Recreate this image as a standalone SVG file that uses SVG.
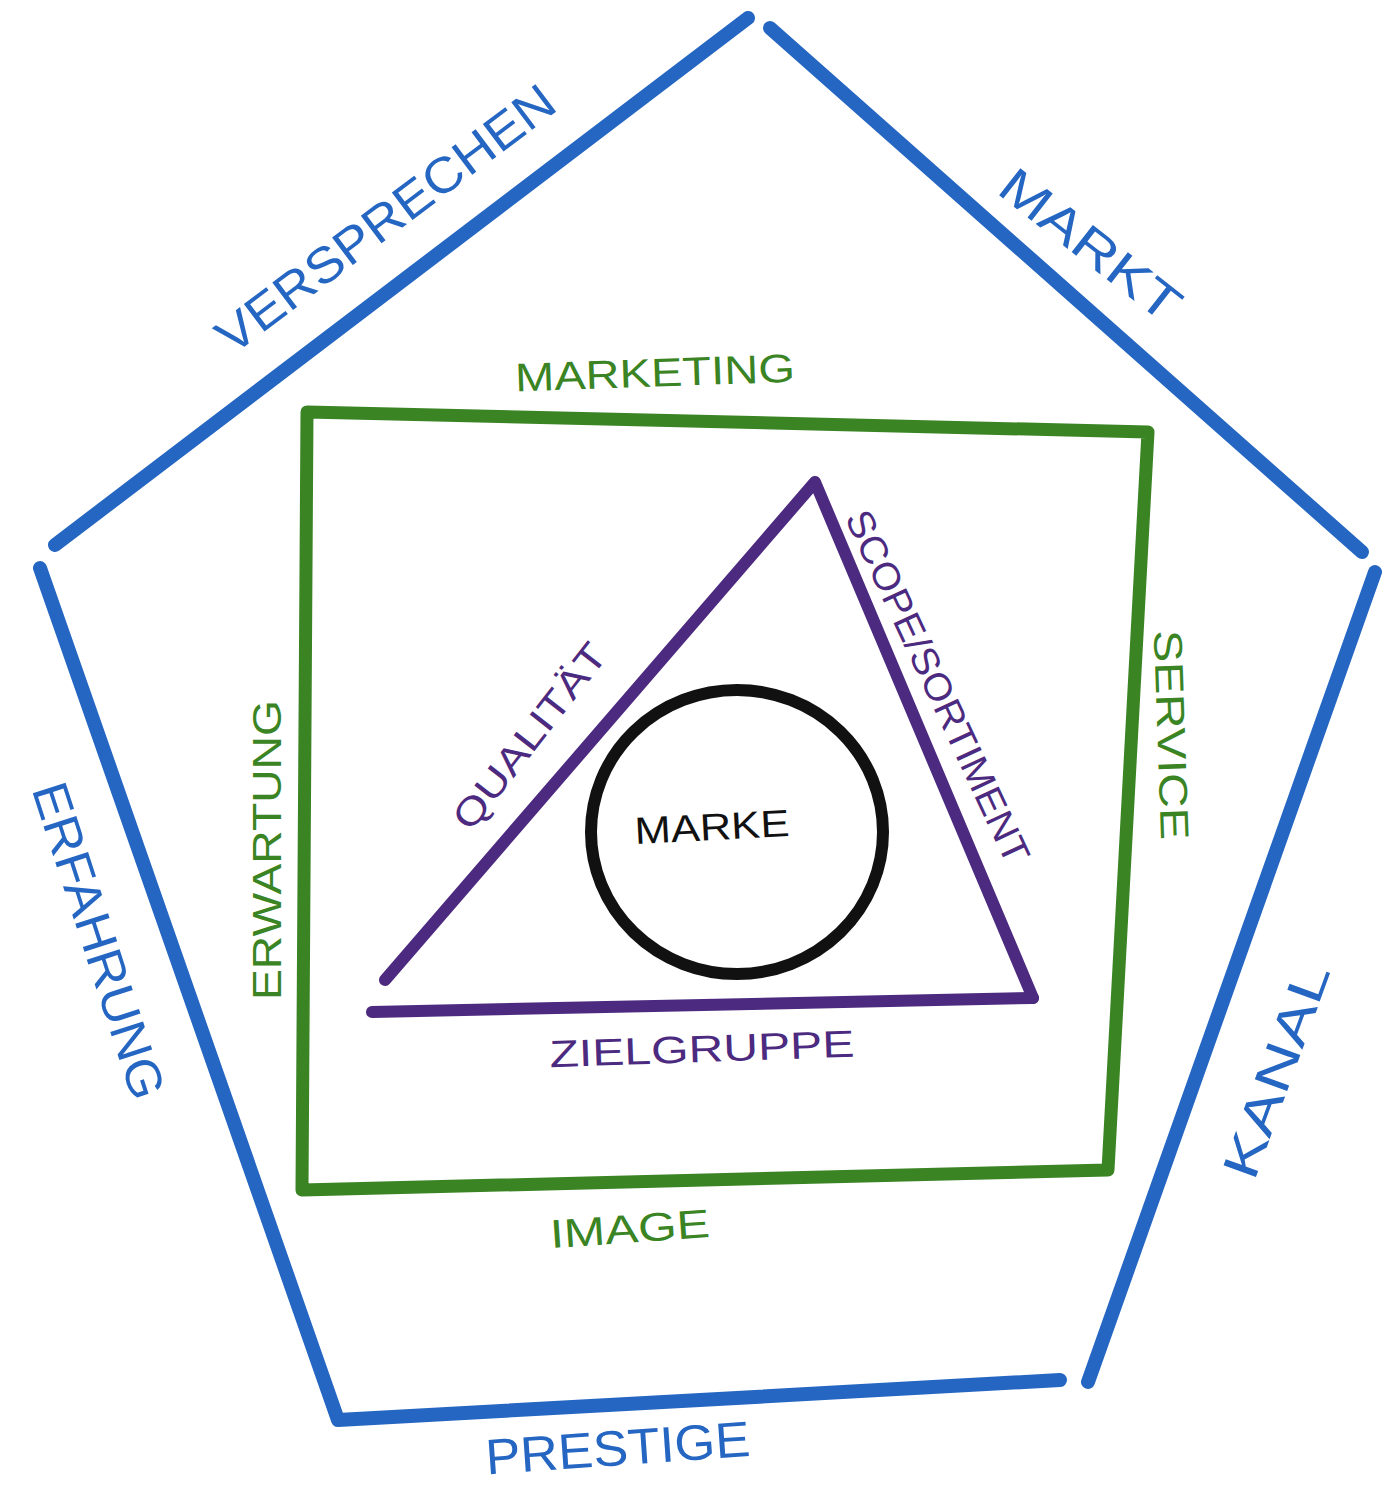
<svg xmlns="http://www.w3.org/2000/svg" width="1399" height="1495" viewBox="0 0 1399 1495">
<style>
.l{fill:none;stroke-linecap:round;stroke-linejoin:round}
.b{stroke:#2466c2;stroke-width:14}
.g{stroke:#3a8424;stroke-width:13}
.p{stroke:#4c2a80;stroke-width:12}
.k{stroke:#111;stroke-width:12}
text{font-family:"Liberation Sans",sans-serif;font-weight:normal;text-anchor:middle;dominant-baseline:middle}
.tb{fill:#2466c2;font-size:50px}
.tg{fill:#3a8424;font-size:40px}
.tp{fill:#4c2a80;font-size:38px}
.tk{fill:#111;font-size:38px}
</style>
<rect width="1399" height="1495" fill="#fff"/>
<g id="pentagon">
<path class="l b" d="M55 545 L748 18"/>
<path class="l b" d="M770 28 L1362 552"/>
<path class="l b" d="M1375 572 L1088 1382"/>
<path class="l b" d="M40 568 L338 1420 L1060 1380"/>
</g>
<g id="square">
<path class="l g" d="M307 412 L1148 432 L1108 1170 L302 1190 Z"/>
</g>
<g id="triangle">
<path class="l p" d="M385 980 L815 482 L1033 998"/>
<path class="l p" d="M372 1012 L1033 998"/>
</g>
<g id="circle">
<ellipse class="l k" cx="737" cy="832" rx="146" ry="142"/>
</g>
<g id="labels">
<text class="tb" transform="translate(388,222) rotate(-37)" textLength="410" lengthAdjust="spacingAndGlyphs">VERSPRECHEN</text>
<text class="tb" transform="translate(1088,248) rotate(38)" textLength="215" lengthAdjust="spacingAndGlyphs">MARKT</text>
<text class="tb" transform="translate(95,942) rotate(72)" textLength="330" lengthAdjust="spacingAndGlyphs">ERFAHRUNG</text>
<text class="tb" transform="translate(1280,1072) rotate(-70)" textLength="225" lengthAdjust="spacingAndGlyphs">KANAL</text>
<text class="tb" transform="translate(618,1452) rotate(-4)" textLength="265" lengthAdjust="spacingAndGlyphs">PRESTIGE</text>
<text class="tg" transform="translate(655,376) rotate(-2)" textLength="280" lengthAdjust="spacingAndGlyphs">MARKETING</text>
<text class="tg" transform="translate(1168,735) rotate(88)" textLength="210" lengthAdjust="spacingAndGlyphs">SERVICE</text>
<text class="tg" transform="translate(270,850) rotate(-90)" textLength="300" lengthAdjust="spacingAndGlyphs">ERWARTUNG</text>
<text class="tg" transform="translate(630,1232) rotate(-4)" textLength="160" lengthAdjust="spacingAndGlyphs">IMAGE</text>
<text class="tp" transform="translate(532,738) rotate(-52)" textLength="225" lengthAdjust="spacingAndGlyphs">QUALITÄT</text>
<text class="tp" transform="translate(935,688) rotate(65)" textLength="385" lengthAdjust="spacingAndGlyphs">SCOPE/SORTIMENT</text>
<text class="tp" transform="translate(702,1052) rotate(-2)" textLength="305" lengthAdjust="spacingAndGlyphs">ZIELGRUPPE</text>
<text class="tk" transform="translate(712,830) rotate(-3)" textLength="155" lengthAdjust="spacingAndGlyphs">MARKE</text>
</g>
</svg>
